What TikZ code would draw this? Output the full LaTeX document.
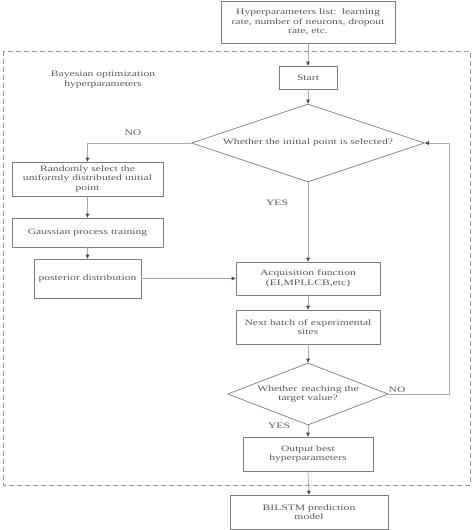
\documentclass[tikz,border=0pt]{standalone}
\usepackage{fontspec}
\setmainfont[FakeStretch=1.4]{Liberation Serif}
\usetikzlibrary{arrows.meta,shapes.geometric}
\definecolor{txt}{RGB}{90,90,90}
\definecolor{bord}{RGB}{125,125,125}
\definecolor{dsh}{RGB}{150,150,150}
\definecolor{conn}{RGB}{170,170,170}
\definecolor{head}{RGB}{70,70,70}
\begin{document}
\begin{tikzpicture}[x=1pt,y=-1pt,
  every node/.style={text=txt,font=\fontsize{8.3}{9.5}\selectfont,align=center,inner sep=1pt},
  bx/.style={draw=bord,line width=0.7pt,rectangle},
  dm/.style={draw=bord,line width=0.7pt,diamond,aspect=3},
  lbl/.style={},
  arr/.style={draw=conn,line width=0.7pt,-{Triangle[length=4pt,width=3.5pt,color=head]}},
  ln/.style={draw=conn,line width=0.7pt}]
\useasboundingbox (0,0) rectangle (474,530);
\draw[dsh,dash pattern=on 5pt off 3pt,line width=0.9pt] (3,51) rectangle (470,485);
\node[lbl] (bay) at (103,79.5) {Bayesian optimization\\hyperparameters};
\node[bx,minimum width=174,minimum height=42] (top) at (308,22) {Hyperparameters list:\, learning\\rate, number of neurons, dropout\\rate, etc.};
\node[bx,minimum width=58,minimum height=23] (start) at (308,77.5) {Start};
\node[dm,minimum width=233,minimum height=78] (d1) at (308,143) {Whether the initial point is selected?};
\node[bx,minimum width=151,minimum height=34] (rand) at (87.5,179) {Randomly select the\\uniformly distributed initial\\point};
\node[bx,minimum width=151,minimum height=29] (gauss) at (87.5,232.5) {Gaussian process training};
\node[bx,minimum width=107,minimum height=39] (post) at (87.5,278.5) {posterior distribution};
\node[bx,minimum width=144,minimum height=33] (acq) at (308,278.5) {Acquisition function\\(EI,MPI,LCB,etc)};
\node[bx,minimum width=144,minimum height=34] (next) at (308,327) {Next batch of experimental\\sites};
\node[dm,minimum width=142,minimum height=62] (d2) at (308,394) {Whether\, reaching the\\target value?};
\node[bx,minimum width=130,minimum height=34] (out) at (308,454) {Output best\\hyperparameters};
\node[bx,minimum width=158,minimum height=34] (bil) at (309,512) {BILSTM prediction\\model};
\node[lbl] (no1) at (133,133) {NO};
\node[lbl] (yes1) at (277,203) {YES};
\node[lbl] (no2) at (397,390) {NO};
\node[lbl] (yes2) at (279,426) {YES};
\coordinate (loop) at (449,394);
\draw[arr] (top.south) -- (start.north);
\draw[arr] (start.south) -- (d1.north);
\draw[arr] (d1.west) -| (rand.north);
\draw[arr] (rand.south) -- (gauss.north);
\draw[arr] (gauss.south) -- (post.north);
\draw[arr] (post.east) -- (acq.west);
\draw[arr] (d1.south) -- (acq.north);
\draw[arr] (acq.south) -- (next.north);
\draw[arr] (next.south) -- (d2.north);
\draw[arr] (d2.east) -- (loop) |- (d1.east);
\draw[arr] (d2.south) -- (out.north);
\draw[arr] (out.south) -- (bil.north);
\end{tikzpicture}
\end{document}
